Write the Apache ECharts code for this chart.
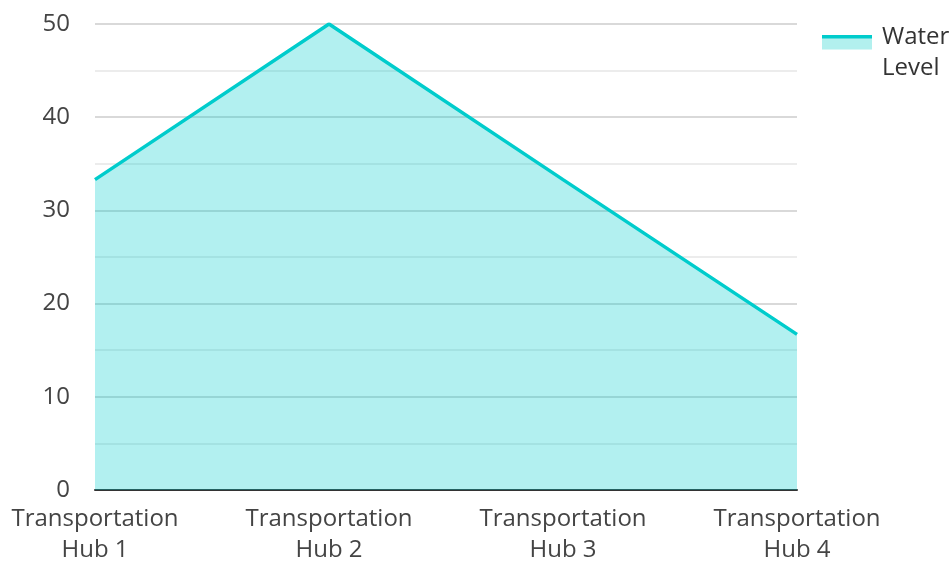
<!DOCTYPE html>
<html><head><meta charset="utf-8">
<script src="https://cdn.jsdelivr.net/npm/echarts@6/dist/echarts.min.js"></script>
<style>html,body{margin:0;padding:0;background:#fff}#c{width:952px;height:562px}</style>
</head><body><div id="c"></div>
<script>
var categories = ['Transportation\nHub 1','Transportation\nHub 2','Transportation\nHub 3','Transportation\nHub 4'];
var waterLevel = [33.3, 50, 33.3, 16.7];
var seriesName = 'Water\nLevel';
var iconSvg = '<svg xmlns="http://www.w3.org/2000/svg" width="50" height="37"><rect x="0" y="3" width="50" height="12" fill="rgb(178,240,238)"/><rect x="0" y="0" width="50" height="4" fill="rgb(0,204,204)"/></svg>';
var chart = echarts.init(document.getElementById('c'));
chart.setOption({
  animation:false,
  textStyle:{fontFamily:'Open Sans'},
  grid:{left:95,right:155,top:24,bottom:72,containLabel:false,outerBoundsMode:'none'},
  legend:{orient:'vertical',left:817,top:17,itemWidth:50,itemHeight:37,itemGap:10,
    icon:'image://data:image/svg+xml;charset=utf-8,'+encodeURIComponent(iconSvg),
    textStyle:{fontSize:24,color:'#333',lineHeight:31,padding:[0,0,0,5],fontFamily:'Open Sans'},
    data:[seriesName]},
  xAxis:{type:'category',data:categories,boundaryGap:false,
    axisLine:{lineStyle:{color:'#333',width:2}},axisTick:{show:false},
    axisLabel:{fontSize:24,color:'#444',lineHeight:31,margin:14,fontFamily:'Open Sans'},
    splitLine:{show:false}},
  yAxis:{type:'value',min:0,max:50,interval:10,
    axisLine:{show:false},axisTick:{show:false},
    axisLabel:{fontSize:24,color:'#444',margin:25,fontFamily:'Open Sans'},
    splitLine:{lineStyle:{color:'#cccccc',width:1.5}},
    minorTick:{show:false,splitNumber:2},
    minorSplitLine:{show:true,lineStyle:{color:'#e6e6e6',width:1.5}}},
  series:[{name:seriesName,type:'line',data:waterLevel,symbol:'none',
    lineStyle:{color:'rgb(0,204,204)',width:3.5},
    itemStyle:{color:'rgb(0,204,204)'},
    areaStyle:{color:'rgb(0,204,204)',opacity:0.3,origin:'start'}}]
});
</script></body></html>
